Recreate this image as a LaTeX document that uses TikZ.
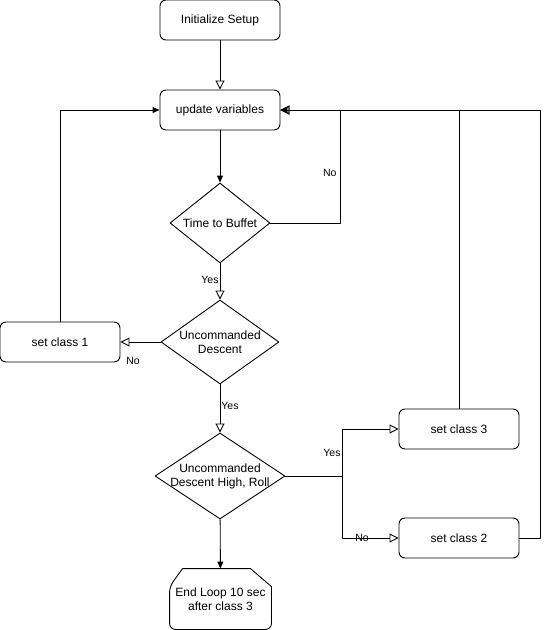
\documentclass[tikz,border=0pt]{standalone}
\usepackage{fontspec}
\setmainfont{Liberation Sans}
\usetikzlibrary{calc,arrows.meta,shapes.geometric}
\tikzset{
	stepbox/.style={draw, rounded corners=6, minimum width=120, minimum height=40, inner sep=0pt},
	decision/.style={draw, diamond, inner sep=0pt},
	openarrow/.style={-{Triangle[open, length=9pt, width=9pt]}},
	fullarrow/.style={-{Triangle[length=7pt, width=6pt]}},
	lbl/.style={inner sep=1pt, font=\fontsize{10.5}{12}\selectfont}
}

\begin{document}
\begin{tikzpicture}[x=1pt, y=-1pt, line width=0.9pt, font=\fontsize{12}{14}\selectfont, line join=round]
			%%%%% START %%%%%
			
			\useasboundingbox[fill=white] (0, 0) rectangle (548, 630);
			
			\node[stepbox] (init) at (220, 20) {Initialize Setup};
			\node[stepbox] (update) at (220, 110) {update variables};
			
			\node[decision, minimum width=100, minimum height=80, label={center:Time to Buffet}] (buffet) at (220, 223) {};
			\node[decision, minimum width=118, minimum height=84, label={[align=center]center:Uncommanded\\Descent}] (descent) at (220, 342) {};
			\node[decision, minimum width=130, minimum height=86, label={[align=center]center:Uncommanded\\Descent High, Roll}] (roll) at (220, 476) {};
			
			\node[stepbox] (class1) at (60, 342) {set class 1};
			\node[stepbox] (class3) at (459, 429) {set class 3};
			\node[stepbox] (class2) at (459, 538) {set class 2};
			
			\node[minimum width=101, minimum height=60, inner sep=0pt, align=center] (endloop) at (220.5, 599) {End Loop 10 sec\\after class 3};
			\draw ($(endloop.north west)+(0, 18)$) -- ($(endloop.north west)+(13, 0)$) -- ($(endloop.north east)+(-21, 0)$) -- ($(endloop.north east)+(0, 18)$) [rounded corners=6] -- (endloop.south east) -- (endloop.south west) -- cycle;
			
			\draw[openarrow] (init) -- (update);
			\draw[fullarrow] (update) -- (buffet);
			\draw[openarrow] (buffet) -- node[lbl, pos=0.45, left] {Yes} (descent);
			\draw[openarrow] (descent) -- node[lbl, pos=0.45, right] {Yes} (roll);
			\draw[fullarrow] (roll) -- (endloop);
			
			\draw[openarrow] (descent) -- (class1);
			\node[lbl] (no1) at (133, 361) {No};
			\draw[fullarrow] (class1.north) |- (update.west);
			
			\coordinate (buffetturn) at (340, 223);
			\draw[fullarrow] (buffet.east) -- (buffetturn) |- node[lbl, pos=0.22, left=2pt] {No} (update.east);
			
			\coordinate (fork) at (342, 476);
			\draw (roll.east) -- (fork);
			\draw[openarrow] (fork) |- node[lbl, pos=0.25, left] {Yes} (class3.west);
			\draw[openarrow] (fork) |- (class2.west);
			\node[lbl] (no2) at (362, 538) {No};
			
			\draw[openarrow] (class3.north) |- (update.east);
			\coordinate (rightturn) at (540, 538);
			\draw[openarrow] (class2.east) -- (rightturn) |- (update.east);
			
			%%%%% END %%%%%
		\end{tikzpicture}
\end{document}
